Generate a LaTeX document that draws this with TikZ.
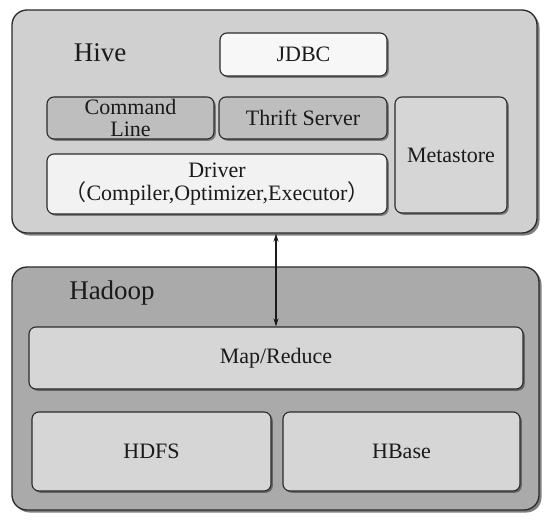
\documentclass[tikz,border=0pt]{standalone}
\usepackage{fontspec}
\setmainfont{Liberation Serif}
\newfontfamily\cjk{Noto Sans CJK SC}
\usetikzlibrary{shadows,arrows.meta}
\definecolor{hivefill}{HTML}{D0D0D0}
\definecolor{hadoopfill}{HTML}{AAAAAA}
\definecolor{lightfill}{HTML}{D6D6D6}
\definecolor{darkfill}{HTML}{BEBEBE}
\definecolor{edge}{HTML}{2A2A2A}
\definecolor{txt}{HTML}{1A1A1A}
\tikzset{
  outerbox/.style={draw=edge, line width=1.3pt, rounded corners=15pt, inner sep=0pt,
    drop shadow={shadow xshift=2.5pt, shadow yshift=-2.5pt, opacity=0.5, fill=black}},
  innerbox/.style={draw=edge, line width=1.1pt, rounded corners=7pt, inner sep=0pt,
    align=center, text=txt, font=\fontsize{22}{22}\selectfont,
    drop shadow={shadow xshift=1.8pt, shadow yshift=-1.8pt, opacity=0.4, fill=black}},
  biglabel/.style={inner sep=0pt, text=txt, font=\fontsize{27}{30}\selectfont},
  link/.style={draw=txt, line width=1.1pt, {Stealth[length=8pt,width=5pt]}-{Stealth[length=8pt,width=5pt]}}
}
\begin{document}
\begin{tikzpicture}[x=1pt,y=-1pt]
\useasboundingbox[fill=white] (0,0) rectangle (552,524);
% outer containers
\node[outerbox, fill=hivefill, minimum width=525pt, minimum height=223pt] (hive) at (274.5,121.5) {};
\node[outerbox, fill=hadoopfill, minimum width=527pt, minimum height=243pt] (hadoop) at (275.5,388.5) {};
\node[biglabel] (hivelbl) at (100,53) {Hive};
\node[biglabel] (hadooplbl) at (112,293) {Hadoop};
% Hive components
\node[innerbox, fill=gray!6, minimum width=167pt, minimum height=43pt] (jdbc) at (303.5,54.5) {JDBC};
\node[innerbox, fill=darkfill, minimum width=167pt, minimum height=42pt] (cli) at (130.5,118) {Command\\Line};
\node[innerbox, fill=darkfill, minimum width=168pt, minimum height=42pt] (thrift) at (303,118) {Thrift Server};
\node[innerbox, fill=gray!10, minimum width=340pt, minimum height=60pt, font=\fontsize{22}{23}\selectfont] (driver) at (217,184) {Driver\\{\cjk （}Compiler,Optimizer,Executor{\cjk ）}};
\node[innerbox, fill=lightfill, minimum width=112pt, minimum height=116pt] (meta) at (451,155) {Metastore};
% Hadoop components
\node[innerbox, fill=lightfill, minimum width=494pt, minimum height=62pt] (mr) at (276,358) {Map/Reduce};
\node[innerbox, fill=lightfill, minimum width=239pt, minimum height=79pt] (hdfs) at (151.5,451.5) {HDFS};
\node[innerbox, fill=lightfill, minimum width=237pt, minimum height=79pt] (hbase) at (401.5,451.5) {HBase};
% connector
\draw[link] (mr.north |- hive.south) -- (mr.north);
\end{tikzpicture}
\end{document}
